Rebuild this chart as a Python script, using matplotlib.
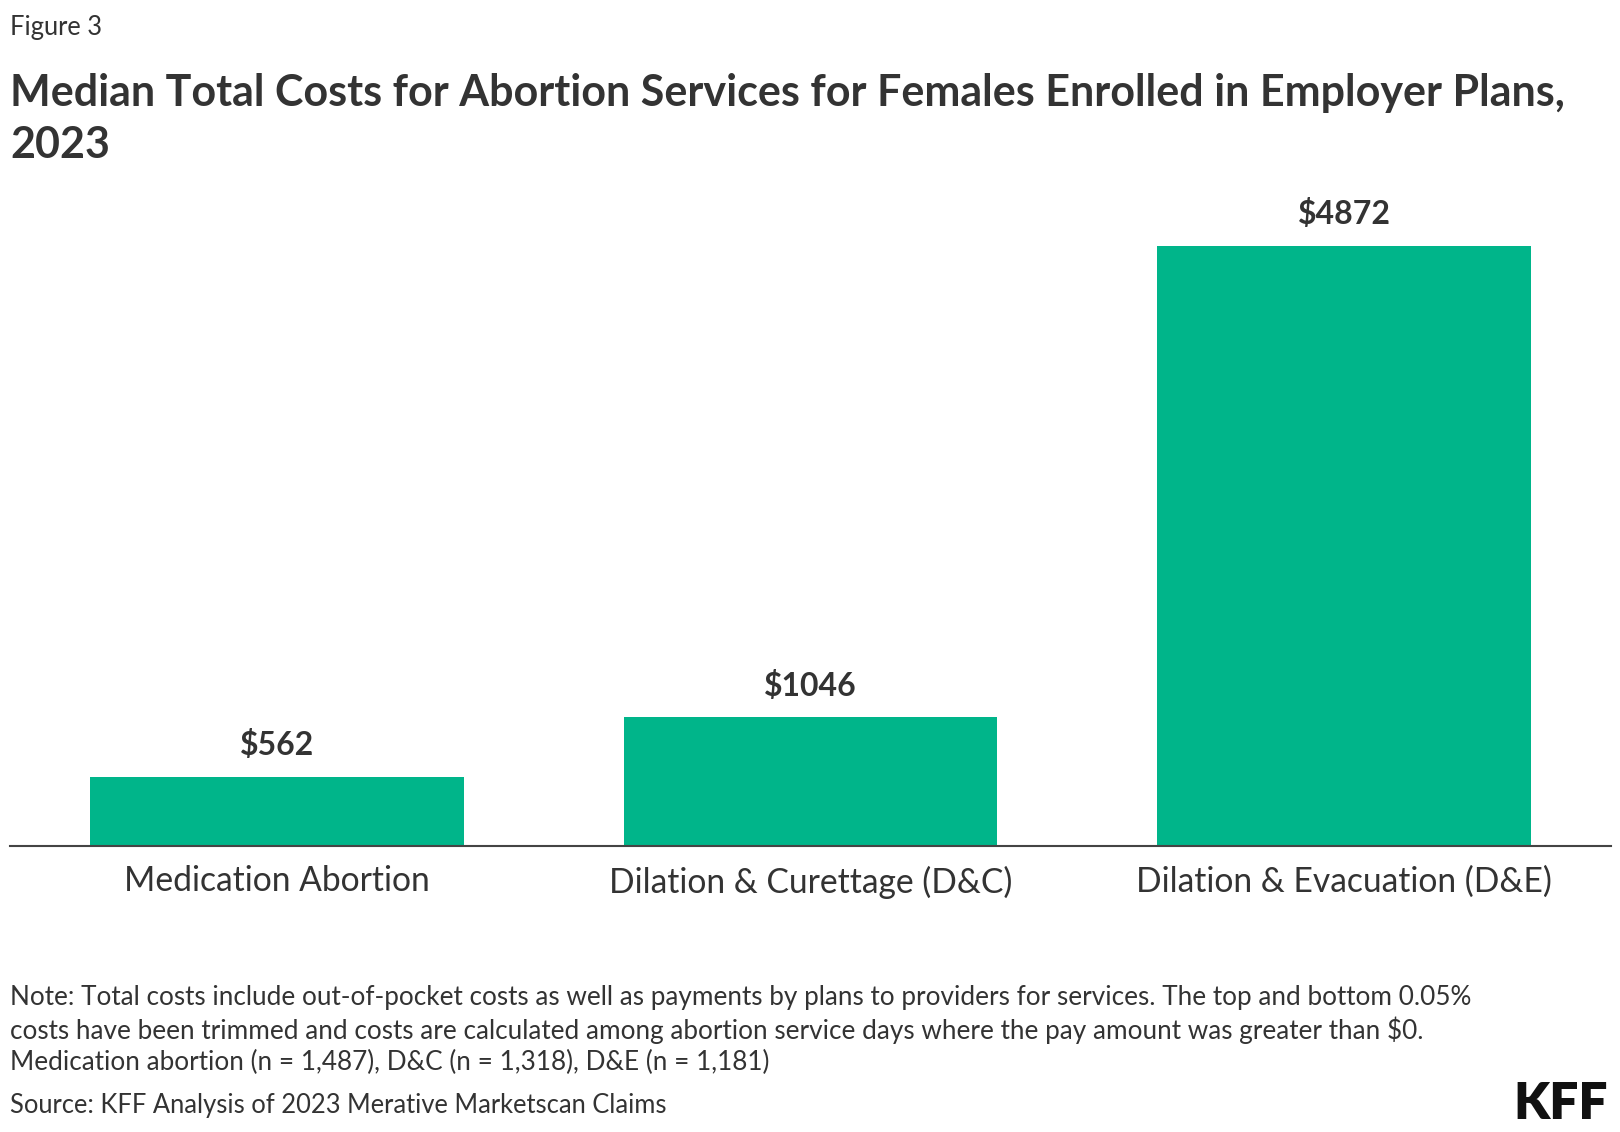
import matplotlib
matplotlib.use("Agg")
import matplotlib.pyplot as plt

categories = ["Medication Abortion", "Dilation & Curettage (D&C)", "Dilation & Evacuation (D&E)"]
values = [562, 1046, 4872]
value_labels = ["$562", "$1046", "$4872"]

W, H = 1620, 1132
plt.rcParams['font.family'] = ['Lato', 'DejaVu Sans']
fig = plt.figure(figsize=(W / 100, H / 100), dpi=100)
TXT = "#333333"
GREEN = "#00B58A"

def fx(px):
    return px / W

def fy(py):
    return 1 - py / H

ax_left, ax_right, ax_bottom, ax_top = 10, 1611, 846, 196
bar_top_px = 246
ax = fig.add_axes([fx(ax_left), fy(ax_bottom), fx(ax_right - ax_left), (ax_bottom - ax_top) / H])
x = range(len(categories))
ax.bar(x, values, width=0.7, color=GREEN, zorder=2)
ax.set_xlim(-0.5, 2.5)
ax.set_ylim(0, 4872 * (ax_bottom - ax_top) / (ax_bottom - bar_top_px))
for s in ["top", "right", "left"]:
    ax.spines[s].set_visible(False)
ax.spines["bottom"].set_color("#444444")
ax.spines["bottom"].set_linewidth(1.5)
ax.set_yticks([])
ax.set_xticks(list(x))
ax.set_xticklabels(categories, fontsize=24.2, color=TXT)
ax.tick_params(axis="x", length=0, pad=14)
for xi, v, lab in zip(x, values, value_labels):
    ax.annotate(lab, (xi, v), xytext=(0, 12), textcoords="offset points",
                ha="center", va="bottom", fontsize=23, fontweight="bold", color=TXT)

fig.text(fx(10), fy(27), "Figure 3", fontsize=18.4, color=TXT, va="center", ha="left")
fig.text(fx(10), fy(93), "Median Total Costs for Abortion Services for Females Enrolled in Employer Plans,",
         fontsize=31, fontweight="bold", color=TXT, va="center", ha="left")
fig.text(fx(10), fy(145), "2023", fontsize=31, fontweight="bold", color=TXT, va="center", ha="left")

note_lines = [
    "Note: Total costs include out-of-pocket costs as well as payments by plans to providers for services. The top and bottom 0.05%",
    "costs have been trimmed and costs are calculated among abortion service days where the pay amount was greater than $0.",
    "Medication abortion (n = 1,487), D&C (n = 1,318), D&E (n = 1,181)",
]
for i, line in enumerate(note_lines):
    fig.text(fx(10), fy(998 + 32 * i), line, fontsize=18.8, color=TXT, va="center", ha="left")
fig.text(fx(10), fy(1106), "Source: KFF Analysis of 2023 Merative Marketscan Claims", fontsize=18.4, color=TXT,
         va="center", ha="left")
fig.text(fx(1608), fy(1104), "KFF", fontsize=37, fontweight="heavy", color="#111111", va="center", ha="right")

fig.savefig("out.png", dpi=100)
